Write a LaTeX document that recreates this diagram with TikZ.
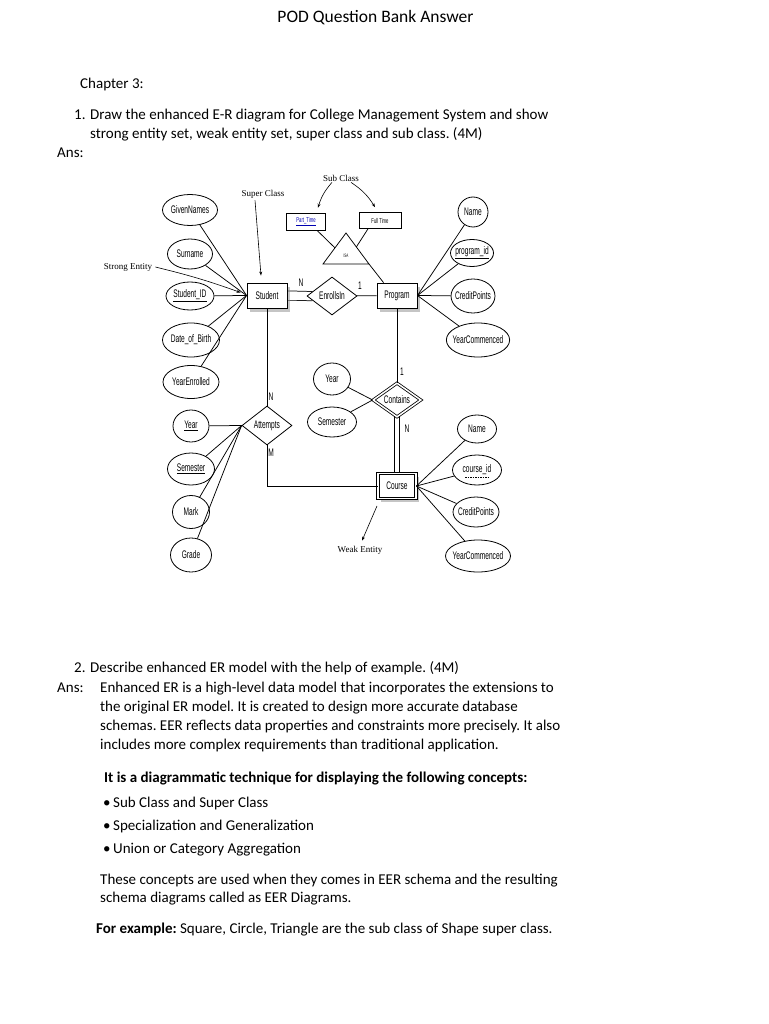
\documentclass[tikz,border=0pt]{standalone}
\usepackage{fontspec}
\setmainfont{Carlito}
\newfontfamily\condfam[FakeStretch=0.6]{Liberation Sans}
\newfontfamily\serfam{Liberation Serif}
\usetikzlibrary{shapes.geometric,shadows,arrows.meta,calc,backgrounds}
\newcommand\attrfont{\condfam\fontsize{11}{12}\selectfont}
\newcommand\tinyfont{\condfam\fontsize{7}{8}\selectfont}
\newcommand\notefont{\serfam\fontsize{9}{10}\selectfont}
\newcommand\bodyfont{\fontsize{15}{18}\selectfont}
\newcommand\titlefont{\fontsize{17.5}{20}\selectfont}
\tikzset{
 attr/.style={ellipse,draw,line width=0.8pt,fill=white,inner xsep=-3pt,inner ysep=0pt,font=\attrfont},
 ent/.style={rectangle,draw,line width=0.9pt,fill=white,inner sep=0pt,minimum width=40pt,minimum height=25pt,font=\attrfont,
   drop shadow={shadow xshift=3pt,shadow yshift=-3.5pt,fill=black!45}},
 rel/.style={diamond,aspect=1.3,draw,line width=0.8pt,fill=white,inner sep=0pt,font=\attrfont},
 subbox/.style={rectangle,draw,line width=0.7pt,fill=white,inner sep=0pt,font=\tinyfont},
 conn/.style={line width=0.75pt},
 note/.style={font=\notefont,inner sep=0pt},
 card/.style={font=\attrfont,inner sep=0pt},
 ptr/.style={line width=0.6pt,-{Stealth[length=4pt,width=3pt]}},
 body/.style={font=\bodyfont,anchor=base west,inner sep=0pt},
}
\frenchspacing
\begin{document}
\begin{tikzpicture}[x=1pt,y=-1pt]
\useasboundingbox (0,0) rectangle (768,1024);

% ---------- text ----------
\node[font=\titlefont,inner sep=0pt] (title) at (375.5,18) {POD Question Bank Answer};
\node[body] (ch) at (80,89) {Chapter 3:};
\node[body] (q1n) at (74,119.5) {1.};
\node[body] (q1a) at (90,119.5) {Draw the enhanced E-R diagram for College Management System and show};
\node[body] (q1b) at (90,138.5) {strong entity set, weak entity set, super class and sub class. (4M)};
\node[body] (ans1) at (57,157.5) {Ans:};

\node[body] (q2n) at (74,672.5) {2.};
\node[body] (q2a) at (90,672.5) {Describe enhanced ER model with the help of example. (4M)};
\node[body] (ans2) at (57,692.5) {Ans:};
\node[body] (p1) at (100,692.5) {Enhanced ER is a high-level data model that incorporates the extensions to};
\node[body] (p2) at (100,711.5) {the original ER model. It is created to design more accurate database};
\node[body] (p3) at (100,730.5) {schemas. EER reflects data properties and constraints more precisely. It also};
\node[body] (p4) at (100,749.5) {includes more complex requirements than traditional application.};
\node[body] (p5) at (104,782.5) {\bfseries It is a diagrammatic technique for displaying the following concepts:};
\node[body] (b1d) at (103,807.5) {\textbullet};
\node[body] (b1) at (113,807.5) {Sub Class and Super Class};
\node[body] (b2d) at (103,830.5) {\textbullet};
\node[body] (b2) at (113,830.5) {Specialization and Generalization};
\node[body] (b3d) at (103,853.5) {\textbullet};
\node[body] (b3) at (113,853.5) {Union or Category Aggregation};
\node[body] (p6) at (100,884.5) {These concepts are used when they comes in EER schema and the resulting};
\node[body] (p7) at (100,902.5) {schema diagrams called as EER Diagrams.};
\node[body] (p8) at (96,933.5) {\textbf{For example:} Square, Circle, Triangle are the sub class of Shape super class.};

% ---------- diagram notes ----------
\node[note] (subl) at (341,178) {Sub Class};
\node[note] (supl) at (263,194) {Super Class};
\node[note] (strl) at (128,267) {Strong Entity};
\node[note] (weakl) at (360,550) {Weak Entity};

% ---------- entities ----------
\node[ent] (stu) at (267,295.5) {Student};
\node[ent] (prog) at (397,295.5) {Program};
\node[ent,double,double distance=1.8pt,minimum width=38pt,minimum height=25pt] (crs) at (397,486) {Course};

% ---------- relationships ----------
\node[rel,minimum width=50pt,minimum height=38pt] (enr) at (332,296) {EnrollsIn};
\node[rel,minimum width=50pt,minimum height=39pt] (att) at (267,425.5) {Attempts};
\node[rel,double,double distance=1.5pt,minimum width=48pt,minimum height=34pt] (con) at (397,400) {Contains};

% ---------- subclasses / ISA ----------
\node[subbox,minimum width=39pt,minimum height=17pt] (pt) at (306,221.5) {\textcolor{blue!70!black}{\underline{Part\_Time}}};
\node[subbox,minimum width=42pt,minimum height=16pt] (ft) at (380,220.5) {Full Time};
\coordinate (isaT) at (346,233);
\coordinate (isaL) at (323,264);
\coordinate (isaR) at (369,264);
\draw[conn,fill=white] (isaT) -- (isaL) -- (isaR) -- cycle;
\node[font=\condfam\fontsize{5}{6}\selectfont,inner sep=0pt] (isa) at (346,256) {ISA};

% ---------- attributes ----------
\node[attr,minimum width=55pt,minimum height=31pt] (gn) at (190,210) {GivenNames};
\node[attr,minimum width=45pt,minimum height=30pt] (sur) at (190,254) {Surname};
\node[attr,minimum width=48pt,minimum height=28pt] (sid) at (190,296) {\underline{Student\_ID}};
\node[attr,minimum width=57pt,minimum height=34pt] (dob) at (191,340) {Date\_of\_Birth};
\node[attr,minimum width=56pt,minimum height=33pt] (ye) at (191,382) {YearEnrolled};
\node[attr,minimum width=36pt,minimum height=32pt] (ay) at (191,426) {\underline{Year}};
\node[attr,minimum width=47pt,minimum height=32pt] (asem) at (191,469) {\underline{Semester}};
\node[attr,minimum width=37pt,minimum height=33pt] (mark) at (191,512) {Mark};
\node[attr,minimum width=41pt,minimum height=34pt] (grade) at (191,555) {Grade};

\node[attr,minimum width=30pt,minimum height=30pt] (pname) at (473,212) {Name};
\node[attr,minimum width=43pt,minimum height=27pt] (pid) at (472,253) {\underline{program\_id}};
\node[attr,minimum width=44pt,minimum height=34pt] (pcp) at (473,296) {CreditPoints};
\node[attr,minimum width=63pt,minimum height=34pt] (pyc) at (478,340) {YearCommenced};

\node[attr,minimum width=37pt,minimum height=32pt] (cy) at (332,379) {Year};
\node[attr,minimum width=49pt,minimum height=30pt] (csem) at (332,422) {Semester};

\node[attr,minimum width=39pt,minimum height=28pt] (cname) at (477,429) {Name};
\node[attr,minimum width=49pt,minimum height=30pt] (cid) at (477,470) {course\_id};
\draw[line width=0.6pt,dash pattern=on 1.5pt off 1pt] ([xshift=-12pt,yshift=-7pt]cid.center) -- ([xshift=12pt,yshift=-7pt]cid.center);
\node[attr,minimum width=46pt,minimum height=30pt] (ccp) at (476,512) {CreditPoints};
\node[attr,minimum width=65pt,minimum height=32pt] (cyc) at (478,556) {YearCommenced};

% ---------- cardinalities ----------
\node[card] (n1) at (301,283) {N};
\node[card] (c1) at (360,286) {1};
\node[card] (c2) at (402,372) {1};
\node[card] (n2) at (407,429) {N};
\node[card] (n3) at (271,397) {N};
\node[card] (m1) at (271,453) {M};

% ---------- connectors ----------
\begin{pgfonlayer}{background}
\fill[white] (0,0) rectangle (768,1024);
\draw[conn,double,double distance=8.5pt,shorten >=-6pt] (stu.east) -- (enr.west);
\end{pgfonlayer}
\draw[conn] ([xshift=-2.2pt,yshift=1.6pt]con.south) -- ([xshift=-2.2pt]crs.north);
\draw[conn] ([xshift=2.2pt,yshift=1.6pt]con.south) -- ([xshift=2.2pt]crs.north);
\draw[conn] (enr) -- (prog);
\draw[conn] (prog.south) -- (con.north);
\draw[conn] (stu.south) -- (att.north);
\draw[conn] (crs.west) -| (att.south);

\foreach \a in {gn,sur,sid,dob,ye} \draw[conn] (\a) -- (stu.west);
\foreach \a in {ay,asem,mark,grade} \draw[conn] (\a) -- (att.west);
\foreach \a in {pname,pid,pcp,pyc} \draw[conn] (\a) -- (prog.east);
\foreach \a in {cname,cid,ccp,cyc} \draw[conn] (\a) -- (crs.east);
\foreach \a in {cy,csem} \draw[conn] (\a) -- (con.west);

\draw[conn] ([xshift=11pt]pt.south) -- ($(isaT)!0.48!(isaL)$);
\draw[conn] ([xshift=-12pt]ft.south) -- ($(isaT)!0.45!(isaR)$);
\draw[conn] (isaR) -- ($(prog.north west)!0.17!(prog.north east)$);

% ---------- pointer arrows ----------
\draw[ptr] ([xshift=-9pt,yshift=-1pt]subl.south) to[bend right=12] ([xshift=12pt,yshift=5pt]pt.north);
\draw[ptr] ([xshift=10pt,yshift=-1pt]subl.south) to[bend left=12] ([xshift=-5pt,yshift=5pt]ft.north);
\draw[ptr] ([xshift=-8pt,yshift=-2pt]supl.south) -- ([xshift=-6pt,yshift=7pt]stu.north);
\draw[ptr] ([xshift=3pt]strl.east) to[bend left=3] ([xshift=-6pt,yshift=3pt]stu.west);
\draw[ptr] ([xshift=-20pt,yshift=-7pt]crs.south) -- ([xshift=2pt,yshift=5pt]weakl.north);
\end{tikzpicture}
\end{document}
